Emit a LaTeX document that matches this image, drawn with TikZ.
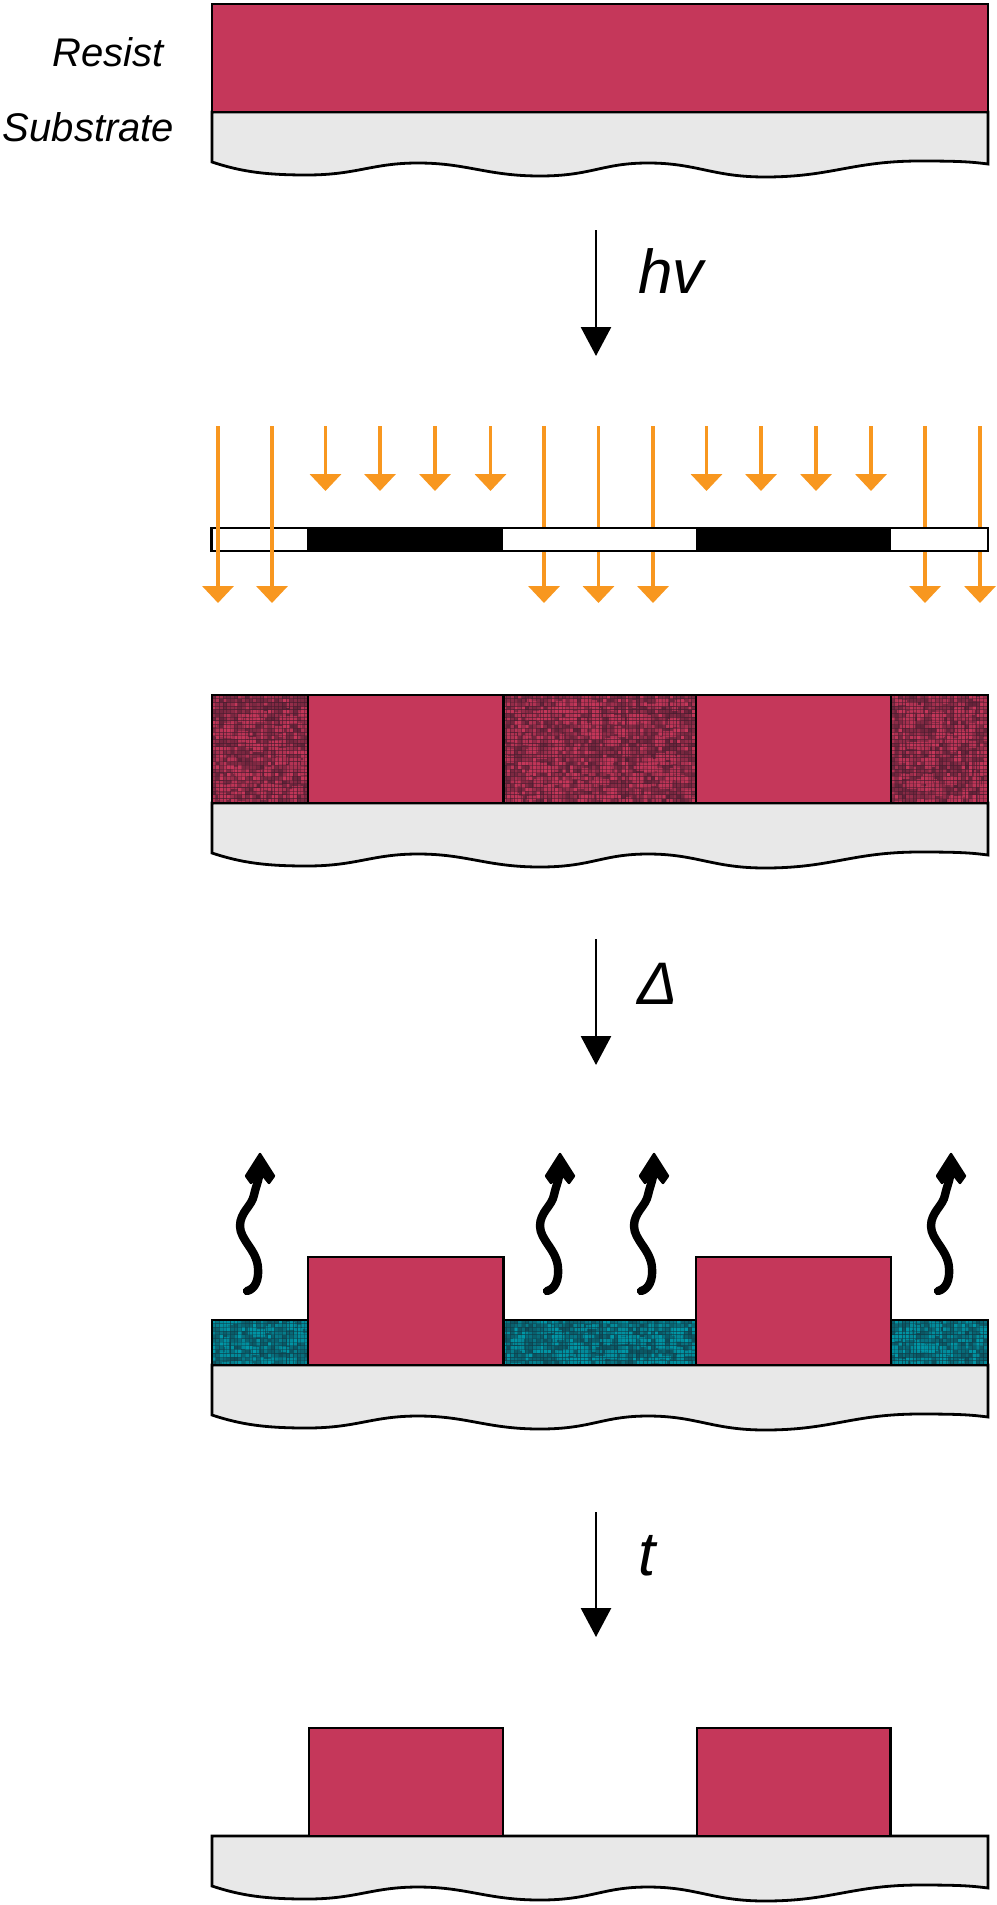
\documentclass[tikz,border=0pt]{standalone}
\usepackage{fontspec}
\setmainfont{Liberation Sans}
\usetikzlibrary{arrows.meta}
\definecolor{resist}{HTML}{C5375A}
\definecolor{resistdark}{HTML}{451C2E}
\definecolor{subst}{HTML}{E8E8E8}
\definecolor{lightarrow}{HTML}{F8971F}
\definecolor{tealbright}{HTML}{0098A8}
\definecolor{tealdark}{HTML}{103A46}
\tikzset{
  x=0.5pt,y=-0.5pt,
  outline/.style={draw=black,line width=1.4pt,line join=miter},
  resistblock/.style={outline,fill=resist},
  substblock/.style={outline,fill=subst},
  process/.style={draw=black,line width=1.4pt,-{Triangle[length=14.5pt,width=15pt]}},
  beam/.style={draw=lightarrow,line width=1.9pt,-{Triangle[length=8.5pt,width=15.5pt]}},
  sidelabel/.style={anchor=base west,inner sep=0pt,font=\fontsize{20}{24}\selectfont\itshape},
  steplabel/.style={anchor=base west,inner sep=0pt,font=\fontsize{31}{36}\selectfont\itshape},
  squiggle/.style={draw=black,line width=4.2pt,line cap=round},
}
% substrate: #1 left x, #2 top y
\newcommand{\substrateshape}[2]{%
  \draw[substblock,shift={(#1,#2)}] (0,0) -- (776,0) -- (776,52)
    .. controls (760,50) and (750,49) .. (708,49)
    .. controls (640,49) and (620,65) .. (553,65)
    .. controls (500,65) and (485,51) .. (436,51)
    .. controls (390,51) and (380,64) .. (328,64)
    .. controls (275,64) and (255,51) .. (206,51)
    .. controls (160,51) and (145,63) .. (95,63)
    .. controls (55,63) and (30,60) .. (0,50) -- cycle;
}
% rough cross-hatched fill: #1,#2 corner; #3,#4 cells; #5 bright; #6 dark; #7 patch count
\newcommand{\roughfill}[7]{%
  \begin{scope}[shift={(#1,#2)}]
    \clip (0,0) rectangle (#3*3.7,#4*3.7);
    \fill[#6!70!#5] (0,0) rectangle (#3*3.7,#4*3.7);
    \foreach \cx in {1,...,#3}{
      \foreach \cy in {1,...,#4}{
        \pgfmathtruncatemacro{\mixv}{min(100,20+100*rnd*rnd+random(0,25))}
        \fill[#5!\mixv!#6] ({(\cx-1)*3.7},{(\cy-1)*3.7}) rectangle ({\cx*3.7},{\cy*3.7});
      }
    }
    \foreach \pn in {1,...,#7}{
      \pgfmathsetmacro{\px}{rnd*#3*3.7}
      \pgfmathsetmacro{\py}{rnd*#4*3.7}
      \pgfmathsetmacro{\pw}{3+rnd*9}
      \pgfmathsetmacro{\ph}{3+rnd*7}
      \fill[#5,opacity=.75] (\px,\py) rectangle (\px+\pw,\py+\ph);
    }
    \foreach \cx in {1,...,#3}{
      \pgfmathsetmacro{\gop}{.25+.45*rnd}
      \draw[#6,line width=.45pt,opacity=\gop] ({\cx*3.7},0) -- ({\cx*3.7},#4*3.7);
    }
    \foreach \cy in {1,...,#4}{
      \pgfmathsetmacro{\gop}{.25+.45*rnd}
      \draw[#6,line width=.45pt,opacity=\gop] (0,{\cy*3.7}) -- (#3*3.7,{\cy*3.7});
    }
  \end{scope}
}
\newcommand{\gasarrow}[1]{%
  \begin{scope}[shift={(#1,0)}]
    \draw[squiggle] (-13,1291) .. controls (-5,1289) and (-1,1280) .. (-2,1268)
      .. controls (-3,1250) and (-20,1240) .. (-20,1226)
      .. controls (-20,1212) and (-8,1206) .. (-6,1195)
      .. controls (-4,1186) and (-1,1180) .. (0,1170);
    \fill[draw=black,line width=1.2pt,line join=round] (0,1154) -- (14,1176) -- (9,1183) -- (0,1172) -- (-9,1183) -- (-14,1176) -- cycle;
  \end{scope}
}
\begin{document}
\begin{tikzpicture}
\useasboundingbox (0,0) rectangle (996,1905);
% stage 1
\substrateshape{212}{112}
\draw[resistblock] (212,4) rectangle (988,112);
\node[sidelabel] (resistlabel) at (52,67) {Resist};
\node[sidelabel] (substratelabel) at (2.5,141) {Substrate};
\coordinate (a1s) at (596,230); \coordinate (a1e) at (596,356);
\draw[process] (a1s) -- (a1e);
\node[steplabel] (hvlabel) at (638,293) {hv};
% stage 2: beams behind the mask
\foreach \bx in {544,598.5,653,925,980}{
  \coordinate (bs) at (\bx,426); \coordinate (be) at (\bx,603);
  \draw[beam] (bs) -- (be);
}
\foreach \bx in {325.5,380,435,490.5,706.5,761,816,871}{
  \coordinate (bs) at (\bx,426); \coordinate (be) at (\bx,491);
  \draw[beam] (bs) -- (be);
}
\draw[outline,fill=white] (211.5,528) rectangle (988,551);
\fill[black] (307,528) rectangle (503,551);
\fill[black] (696,528) rectangle (891,551);
\foreach \bx in {218,272}{
  \coordinate (bs) at (\bx,426); \coordinate (be) at (\bx,603);
  \draw[beam] (bs) -- (be);
}
% stage 3
\pgfmathsetseed{4711}
\substrateshape{212}{803}
\roughfill{212}{695}{26}{29}{resist}{resistdark}{70}
\roughfill{503}{695}{52}{29}{resist}{resistdark}{140}
\roughfill{891}{695}{26}{29}{resist}{resistdark}{70}
\draw[outline] (212,695) rectangle (308,803);
\draw[outline] (503.5,695) rectangle (696,803);
\draw[outline] (891,695) rectangle (988,803);
\draw[resistblock] (308,695) rectangle (503.5,803);
\draw[resistblock] (696,695) rectangle (891,803);
\coordinate (a2s) at (596,939); \coordinate (a2e) at (596,1065);
\draw[process] (a2s) -- (a2e);
\node[steplabel,font=\fontsize{30}{36}\selectfont\itshape] (deltalabel) at (637,1004) {Δ};
% stage 4
\substrateshape{212}{1365}
\roughfill{212}{1320}{26}{12}{tealbright}{tealdark}{28}
\roughfill{503}{1320}{52}{12}{tealbright}{tealdark}{56}
\roughfill{891}{1320}{26}{12}{tealbright}{tealdark}{28}
\draw[outline] (212,1320) rectangle (308,1365);
\draw[outline] (503.5,1320) rectangle (696,1365);
\draw[outline] (891,1320) rectangle (988,1365);
\draw[resistblock] (308,1257) rectangle (503.5,1365);
\draw[resistblock] (696,1257) rectangle (891,1365);
\gasarrow{260}\gasarrow{560}\gasarrow{654}\gasarrow{951}
\coordinate (a3s) at (596,1512); \coordinate (a3e) at (596,1637);
\draw[process] (a3s) -- (a3e);
\node[steplabel] (tlabel) at (638,1575) {t};
% stage 5
\substrateshape{212}{1836}
\draw[resistblock] (309,1728) rectangle (503,1836);
\draw[resistblock] (697,1728) rectangle (890.5,1836);
\end{tikzpicture}
\end{document}
